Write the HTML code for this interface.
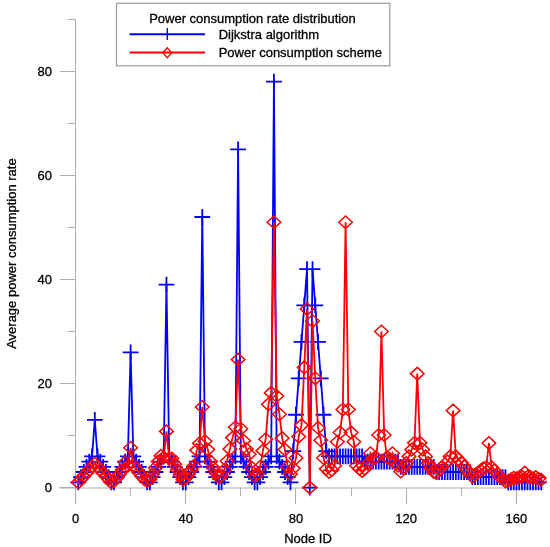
<!DOCTYPE html>
<html><head><meta charset="utf-8"><style>html,body{margin:0;padding:0;background:#fff;}svg{display:block;}</style></head>
<body><svg width="550" height="547" viewBox="0 0 550 547">
<rect width="550" height="547" fill="#fff"/>
<g stroke="#b0b0b0" stroke-width="1.1" fill="none"><line x1="75.5" y1="19.24" x2="75.5" y2="504" /><line x1="59.5" y1="487.50" x2="75.5" y2="487.50" /><line x1="67.5" y1="435.50" x2="75.5" y2="435.50" /><line x1="59.5" y1="383.50" x2="75.5" y2="383.50" /><line x1="67.5" y1="331.50" x2="75.5" y2="331.50" /><line x1="59.5" y1="279.50" x2="75.5" y2="279.50" /><line x1="67.5" y1="227.50" x2="75.5" y2="227.50" /><line x1="59.5" y1="175.50" x2="75.5" y2="175.50" /><line x1="67.5" y1="123.50" x2="75.5" y2="123.50" /><line x1="59.5" y1="71.50" x2="75.5" y2="71.50" /><line x1="67.5" y1="19.50" x2="75.5" y2="19.50" /><line x1="59.5" y1="488" x2="544.02" y2="488" /><line x1="75.50" y1="488" x2="75.50" y2="504" /><line x1="130.50" y1="488" x2="130.50" y2="496" /><line x1="185.50" y1="488" x2="185.50" y2="504" /><line x1="240.50" y1="488" x2="240.50" y2="496" /><line x1="295.50" y1="488" x2="295.50" y2="504" /><line x1="351.50" y1="488" x2="351.50" y2="496" /><line x1="406.50" y1="488" x2="406.50" y2="504" /><line x1="461.50" y1="488" x2="461.50" y2="496" /><line x1="516.50" y1="488" x2="516.50" y2="504" /></g>
<g font-family="Liberation Sans, Arial, sans-serif" font-size="13" fill="#000" stroke="#000" stroke-width="0.3"><text x="52" y="492.20" text-anchor="end">0</text><text x="52" y="388.12" text-anchor="end">20</text><text x="52" y="284.04" text-anchor="end">40</text><text x="52" y="179.96" text-anchor="end">60</text><text x="52" y="75.88" text-anchor="end">80</text><text x="75.50" y="523.3" text-anchor="middle">0</text><text x="185.74" y="523.3" text-anchor="middle">40</text><text x="295.98" y="523.3" text-anchor="middle">80</text><text x="406.22" y="523.3" text-anchor="middle">120</text><text x="516.46" y="523.3" text-anchor="middle">160</text>
<text x="308" y="543.2" text-anchor="middle">Node ID</text>
<text transform="translate(15.8 253.6) rotate(-90)" text-anchor="middle">Average power consumption rate</text>
</g>
<defs><clipPath id="cp"><rect x="0" y="0" width="546.6" height="547"/></clipPath></defs>
<g fill="none" stroke-linejoin="miter" clip-path="url(#cp)">
<polyline points="78.26,482.40 81.01,477.19 83.77,471.99 86.52,466.78 89.28,461.58 92.04,456.38 94.79,419.95 97.55,456.38 100.30,461.58 103.06,466.78 105.82,471.99 108.57,477.19 111.33,482.40 114.08,482.40 116.84,477.19 119.60,471.99 122.35,466.78 125.11,461.58 127.86,456.38 130.62,352.30 133.38,456.38 136.13,461.58 138.89,466.78 141.64,471.99 144.40,477.19 147.16,482.40 149.91,482.40 152.67,477.19 155.42,471.99 158.18,466.78 160.94,461.58 163.69,456.38 166.45,284.64 169.20,456.38 171.96,461.58 174.72,466.78 177.47,471.99 180.23,477.19 182.98,482.40 185.74,482.40 188.50,477.19 191.25,471.99 194.01,466.78 196.76,461.58 199.52,456.38 202.28,216.99 205.03,456.38 207.79,461.58 210.54,466.78 213.30,471.99 216.06,477.19 218.81,482.40 221.57,482.40 224.32,477.19 227.08,471.99 229.84,466.78 232.59,461.58 235.35,456.38 238.10,149.34 240.86,456.38 243.62,461.58 246.37,466.78 249.13,471.99 251.88,477.19 254.64,482.40 257.40,482.40 260.15,477.19 262.91,471.99 265.66,466.78 268.42,461.58 271.18,456.38 273.93,81.69 276.69,456.38 279.44,461.58 282.20,466.78 284.96,471.99 287.71,477.19 290.47,482.40 293.22,451.17 295.98,414.74 298.74,378.32 301.49,341.89 304.25,305.46 307.00,269.03 309.76,487.60 312.52,269.03 315.27,305.46 318.03,341.89 320.78,378.32 323.54,414.74 326.30,451.17 329.05,456.38 331.81,456.38 334.56,456.38 337.32,456.38 340.08,456.38 342.83,456.38 345.59,456.38 348.34,456.38 351.10,456.38 353.86,456.38 356.61,456.38 359.37,456.38 362.12,456.38 364.88,461.58 367.64,461.58 370.39,461.58 373.15,461.58 375.90,461.58 378.66,461.58 381.42,461.58 384.17,461.58 386.93,461.58 389.68,461.58 392.44,461.58 395.20,461.58 397.95,461.58 400.71,466.78 403.46,466.78 406.22,466.78 408.98,466.78 411.73,466.78 414.49,466.78 417.24,466.78 420.00,466.78 422.76,466.78 425.51,466.78 428.27,466.78 431.02,466.78 433.78,466.78 436.54,471.99 439.29,471.99 442.05,471.99 444.80,471.99 447.56,471.99 450.32,471.99 453.07,471.99 455.83,471.99 458.58,471.99 461.34,471.99 464.10,471.99 466.85,471.99 469.61,471.99 472.36,477.19 475.12,477.19 477.88,477.19 480.63,477.19 483.39,477.19 486.14,477.19 488.90,477.19 491.66,477.19 494.41,477.19 497.17,477.19 499.92,477.19 502.68,477.19 505.44,477.19 508.19,482.40 510.95,482.40 513.70,482.40 516.46,482.40 519.22,482.40 521.97,482.40 524.73,482.40 527.48,482.40 530.24,482.40 533.00,482.40 535.75,482.40 538.51,482.40 541.26,482.40" stroke="#0000ff" stroke-width="1.8"/>
<path d="M70.36 482.40H86.16M78.26 474.50V490.30M73.11 477.19H88.91M81.01 469.29V485.09M75.87 471.99H91.67M83.77 464.09V479.89M78.62 466.78H94.42M86.52 458.88V474.68M81.38 461.58H97.18M89.28 453.68V469.48M84.14 456.38H99.94M92.04 448.48V464.28M86.89 419.95H102.69M94.79 412.05V427.85M89.65 456.38H105.45M97.55 448.48V464.28M92.40 461.58H108.20M100.30 453.68V469.48M95.16 466.78H110.96M103.06 458.88V474.68M97.92 471.99H113.72M105.82 464.09V479.89M100.67 477.19H116.47M108.57 469.29V485.09M103.43 482.40H119.23M111.33 474.50V490.30M106.18 482.40H121.98M114.08 474.50V490.30M108.94 477.19H124.74M116.84 469.29V485.09M111.70 471.99H127.50M119.60 464.09V479.89M114.45 466.78H130.25M122.35 458.88V474.68M117.21 461.58H133.01M125.11 453.68V469.48M119.96 456.38H135.76M127.86 448.48V464.28M122.72 352.30H138.52M130.62 344.40V360.20M125.48 456.38H141.28M133.38 448.48V464.28M128.23 461.58H144.03M136.13 453.68V469.48M130.99 466.78H146.79M138.89 458.88V474.68M133.74 471.99H149.54M141.64 464.09V479.89M136.50 477.19H152.30M144.40 469.29V485.09M139.26 482.40H155.06M147.16 474.50V490.30M142.01 482.40H157.81M149.91 474.50V490.30M144.77 477.19H160.57M152.67 469.29V485.09M147.52 471.99H163.32M155.42 464.09V479.89M150.28 466.78H166.08M158.18 458.88V474.68M153.04 461.58H168.84M160.94 453.68V469.48M155.79 456.38H171.59M163.69 448.48V464.28M158.55 284.64H174.35M166.45 276.74V292.54M161.30 456.38H177.10M169.20 448.48V464.28M164.06 461.58H179.86M171.96 453.68V469.48M166.82 466.78H182.62M174.72 458.88V474.68M169.57 471.99H185.37M177.47 464.09V479.89M172.33 477.19H188.13M180.23 469.29V485.09M175.08 482.40H190.88M182.98 474.50V490.30M177.84 482.40H193.64M185.74 474.50V490.30M180.60 477.19H196.40M188.50 469.29V485.09M183.35 471.99H199.15M191.25 464.09V479.89M186.11 466.78H201.91M194.01 458.88V474.68M188.86 461.58H204.66M196.76 453.68V469.48M191.62 456.38H207.42M199.52 448.48V464.28M194.38 216.99H210.18M202.28 209.09V224.89M197.13 456.38H212.93M205.03 448.48V464.28M199.89 461.58H215.69M207.79 453.68V469.48M202.64 466.78H218.44M210.54 458.88V474.68M205.40 471.99H221.20M213.30 464.09V479.89M208.16 477.19H223.96M216.06 469.29V485.09M210.91 482.40H226.71M218.81 474.50V490.30M213.67 482.40H229.47M221.57 474.50V490.30M216.42 477.19H232.22M224.32 469.29V485.09M219.18 471.99H234.98M227.08 464.09V479.89M221.94 466.78H237.74M229.84 458.88V474.68M224.69 461.58H240.49M232.59 453.68V469.48M227.45 456.38H243.25M235.35 448.48V464.28M230.20 149.34H246.00M238.10 141.44V157.24M232.96 456.38H248.76M240.86 448.48V464.28M235.72 461.58H251.52M243.62 453.68V469.48M238.47 466.78H254.27M246.37 458.88V474.68M241.23 471.99H257.03M249.13 464.09V479.89M243.98 477.19H259.78M251.88 469.29V485.09M246.74 482.40H262.54M254.64 474.50V490.30M249.50 482.40H265.30M257.40 474.50V490.30M252.25 477.19H268.05M260.15 469.29V485.09M255.01 471.99H270.81M262.91 464.09V479.89M257.76 466.78H273.56M265.66 458.88V474.68M260.52 461.58H276.32M268.42 453.68V469.48M263.28 456.38H279.08M271.18 448.48V464.28M266.03 81.69H281.83M273.93 73.79V89.59M268.79 456.38H284.59M276.69 448.48V464.28M271.54 461.58H287.34M279.44 453.68V469.48M274.30 466.78H290.10M282.20 458.88V474.68M277.06 471.99H292.86M284.96 464.09V479.89M279.81 477.19H295.61M287.71 469.29V485.09M282.57 482.40H298.37M290.47 474.50V490.30M285.32 451.17H301.12M293.22 443.27V459.07M288.08 414.74H303.88M295.98 406.84V422.64M290.84 378.32H306.64M298.74 370.42V386.22M293.59 341.89H309.39M301.49 333.99V349.79M296.35 305.46H312.15M304.25 297.56V313.36M299.10 269.03H314.90M307.00 261.13V276.93M301.86 487.60H317.66M309.76 479.70V495.50M304.62 269.03H320.42M312.52 261.13V276.93M307.37 305.46H323.17M315.27 297.56V313.36M310.13 341.89H325.93M318.03 333.99V349.79M312.88 378.32H328.68M320.78 370.42V386.22M315.64 414.74H331.44M323.54 406.84V422.64M318.40 451.17H334.20M326.30 443.27V459.07M321.15 456.38H336.95M329.05 448.48V464.28M323.91 456.38H339.71M331.81 448.48V464.28M326.66 456.38H342.46M334.56 448.48V464.28M329.42 456.38H345.22M337.32 448.48V464.28M332.18 456.38H347.98M340.08 448.48V464.28M334.93 456.38H350.73M342.83 448.48V464.28M337.69 456.38H353.49M345.59 448.48V464.28M340.44 456.38H356.24M348.34 448.48V464.28M343.20 456.38H359.00M351.10 448.48V464.28M345.96 456.38H361.76M353.86 448.48V464.28M348.71 456.38H364.51M356.61 448.48V464.28M351.47 456.38H367.27M359.37 448.48V464.28M354.22 456.38H370.02M362.12 448.48V464.28M356.98 461.58H372.78M364.88 453.68V469.48M359.74 461.58H375.54M367.64 453.68V469.48M362.49 461.58H378.29M370.39 453.68V469.48M365.25 461.58H381.05M373.15 453.68V469.48M368.00 461.58H383.80M375.90 453.68V469.48M370.76 461.58H386.56M378.66 453.68V469.48M373.52 461.58H389.32M381.42 453.68V469.48M376.27 461.58H392.07M384.17 453.68V469.48M379.03 461.58H394.83M386.93 453.68V469.48M381.78 461.58H397.58M389.68 453.68V469.48M384.54 461.58H400.34M392.44 453.68V469.48M387.30 461.58H403.10M395.20 453.68V469.48M390.05 461.58H405.85M397.95 453.68V469.48M392.81 466.78H408.61M400.71 458.88V474.68M395.56 466.78H411.36M403.46 458.88V474.68M398.32 466.78H414.12M406.22 458.88V474.68M401.08 466.78H416.88M408.98 458.88V474.68M403.83 466.78H419.63M411.73 458.88V474.68M406.59 466.78H422.39M414.49 458.88V474.68M409.34 466.78H425.14M417.24 458.88V474.68M412.10 466.78H427.90M420.00 458.88V474.68M414.86 466.78H430.66M422.76 458.88V474.68M417.61 466.78H433.41M425.51 458.88V474.68M420.37 466.78H436.17M428.27 458.88V474.68M423.12 466.78H438.92M431.02 458.88V474.68M425.88 466.78H441.68M433.78 458.88V474.68M428.64 471.99H444.44M436.54 464.09V479.89M431.39 471.99H447.19M439.29 464.09V479.89M434.15 471.99H449.95M442.05 464.09V479.89M436.90 471.99H452.70M444.80 464.09V479.89M439.66 471.99H455.46M447.56 464.09V479.89M442.42 471.99H458.22M450.32 464.09V479.89M445.17 471.99H460.97M453.07 464.09V479.89M447.93 471.99H463.73M455.83 464.09V479.89M450.68 471.99H466.48M458.58 464.09V479.89M453.44 471.99H469.24M461.34 464.09V479.89M456.20 471.99H472.00M464.10 464.09V479.89M458.95 471.99H474.75M466.85 464.09V479.89M461.71 471.99H477.51M469.61 464.09V479.89M464.46 477.19H480.26M472.36 469.29V485.09M467.22 477.19H483.02M475.12 469.29V485.09M469.98 477.19H485.78M477.88 469.29V485.09M472.73 477.19H488.53M480.63 469.29V485.09M475.49 477.19H491.29M483.39 469.29V485.09M478.24 477.19H494.04M486.14 469.29V485.09M481.00 477.19H496.80M488.90 469.29V485.09M483.76 477.19H499.56M491.66 469.29V485.09M486.51 477.19H502.31M494.41 469.29V485.09M489.27 477.19H505.07M497.17 469.29V485.09M492.02 477.19H507.82M499.92 469.29V485.09M494.78 477.19H510.58M502.68 469.29V485.09M497.54 477.19H513.34M505.44 469.29V485.09M500.29 482.40H516.09M508.19 474.50V490.30M503.05 482.40H518.85M510.95 474.50V490.30M505.80 482.40H521.60M513.70 474.50V490.30M508.56 482.40H524.36M516.46 474.50V490.30M511.32 482.40H527.12M519.22 474.50V490.30M514.07 482.40H529.87M521.97 474.50V490.30M516.83 482.40H532.63M524.73 474.50V490.30M519.58 482.40H535.38M527.48 474.50V490.30M522.34 482.40H538.14M530.24 474.50V490.30M525.10 482.40H540.90M533.00 474.50V490.30M527.85 482.40H543.65M535.75 474.50V490.30M530.61 482.40H546.41M538.51 474.50V490.30M533.36 482.40H549.16M541.26 474.50V490.30" stroke="#0000ff" stroke-width="1.8"/>
<polyline points="78.26,482.40 81.01,479.27 83.77,476.15 86.52,473.03 89.28,469.91 92.04,466.78 94.79,463.66 97.55,466.78 100.30,469.91 103.06,473.03 105.82,476.15 108.57,479.27 111.33,482.40 114.08,480.83 116.84,477.71 119.60,474.07 122.35,469.91 125.11,462.36 127.86,465.74 130.62,447.79 133.38,465.22 136.13,468.87 138.89,472.51 141.64,476.15 144.40,479.27 147.16,480.83 149.91,479.27 152.67,474.07 155.42,467.82 158.18,461.58 160.94,455.86 163.69,457.42 166.45,431.40 169.20,458.46 171.96,458.46 174.72,464.18 177.47,469.91 180.23,475.11 182.98,479.79 185.74,477.71 188.50,474.07 191.25,469.91 194.01,465.74 196.76,450.13 199.52,443.37 202.28,406.94 205.03,441.28 207.79,449.61 210.54,461.58 213.30,467.82 216.06,473.03 218.81,477.19 221.57,475.63 224.32,469.91 227.08,461.06 229.84,449.09 232.59,437.64 235.35,427.23 238.10,359.58 240.86,428.79 243.62,440.76 246.37,449.09 249.13,454.29 251.88,467.82 254.64,476.15 257.40,474.07 260.15,466.78 262.91,450.65 265.66,439.20 268.42,404.34 271.18,392.89 273.93,222.20 276.69,396.01 279.44,414.22 282.20,438.16 284.96,449.61 287.71,466.78 290.47,474.07 293.22,468.35 295.98,457.94 298.74,436.60 301.49,425.15 304.25,367.39 307.00,309.10 309.76,487.60 312.52,321.07 315.27,378.32 318.03,427.75 320.78,440.24 323.54,457.94 326.30,468.87 329.05,471.99 331.81,469.91 334.56,465.74 337.32,441.80 340.08,432.44 342.83,409.54 345.59,222.20 348.34,409.54 351.10,432.44 353.86,441.80 356.61,465.74 359.37,468.87 362.12,470.95 364.88,468.87 367.64,463.66 370.39,453.25 373.15,458.98 375.90,457.42 378.66,435.04 381.42,331.48 384.17,435.04 386.93,457.42 389.68,458.98 392.44,453.25 395.20,462.62 397.95,465.74 400.71,471.47 403.46,467.82 406.22,463.14 408.98,456.38 411.73,449.61 414.49,442.85 417.24,373.63 420.00,442.85 422.76,449.61 425.51,456.38 428.27,463.14 431.02,467.82 433.78,471.99 436.54,473.03 439.29,469.91 442.05,466.78 444.80,464.18 447.56,461.58 450.32,456.38 453.07,410.58 455.83,456.38 458.58,459.50 461.34,462.62 464.10,466.26 466.85,469.91 469.61,474.07 472.36,476.67 475.12,474.59 477.88,472.51 480.63,470.43 483.39,468.35 486.14,467.30 488.90,443.11 491.66,467.30 494.41,470.43 497.17,473.55 499.92,476.67 502.68,479.27 505.44,481.36 508.19,480.83 510.95,479.27 513.70,477.71 516.46,478.23 519.22,477.19 521.97,476.67 524.73,472.51 527.48,476.67 530.24,477.19 533.00,478.23 535.75,477.19 538.51,478.75 541.26,479.79" stroke="#ff0000" stroke-width="1.8"/>
<path d="M71.46 482.40L78.26 476.10L85.06 482.40L78.26 488.70ZM74.21 479.27L81.01 472.97L87.81 479.27L81.01 485.57ZM76.97 476.15L83.77 469.85L90.57 476.15L83.77 482.45ZM79.72 473.03L86.52 466.73L93.32 473.03L86.52 479.33ZM82.48 469.91L89.28 463.61L96.08 469.91L89.28 476.21ZM85.24 466.78L92.04 460.48L98.84 466.78L92.04 473.08ZM87.99 463.66L94.79 457.36L101.59 463.66L94.79 469.96ZM90.75 466.78L97.55 460.48L104.35 466.78L97.55 473.08ZM93.50 469.91L100.30 463.61L107.10 469.91L100.30 476.21ZM96.26 473.03L103.06 466.73L109.86 473.03L103.06 479.33ZM99.02 476.15L105.82 469.85L112.62 476.15L105.82 482.45ZM101.77 479.27L108.57 472.97L115.37 479.27L108.57 485.57ZM104.53 482.40L111.33 476.10L118.13 482.40L111.33 488.70ZM107.28 480.83L114.08 474.53L120.88 480.83L114.08 487.13ZM110.04 477.71L116.84 471.41L123.64 477.71L116.84 484.01ZM112.80 474.07L119.60 467.77L126.40 474.07L119.60 480.37ZM115.55 469.91L122.35 463.61L129.15 469.91L122.35 476.21ZM118.31 462.36L125.11 456.06L131.91 462.36L125.11 468.66ZM121.06 465.74L127.86 459.44L134.66 465.74L127.86 472.04ZM123.82 447.79L130.62 441.49L137.42 447.79L130.62 454.09ZM126.58 465.22L133.38 458.92L140.18 465.22L133.38 471.52ZM129.33 468.87L136.13 462.57L142.93 468.87L136.13 475.17ZM132.09 472.51L138.89 466.21L145.69 472.51L138.89 478.81ZM134.84 476.15L141.64 469.85L148.44 476.15L141.64 482.45ZM137.60 479.27L144.40 472.97L151.20 479.27L144.40 485.57ZM140.36 480.83L147.16 474.53L153.96 480.83L147.16 487.13ZM143.11 479.27L149.91 472.97L156.71 479.27L149.91 485.57ZM145.87 474.07L152.67 467.77L159.47 474.07L152.67 480.37ZM148.62 467.82L155.42 461.52L162.22 467.82L155.42 474.12ZM151.38 461.58L158.18 455.28L164.98 461.58L158.18 467.88ZM154.14 455.86L160.94 449.56L167.74 455.86L160.94 462.16ZM156.89 457.42L163.69 451.12L170.49 457.42L163.69 463.72ZM159.65 431.40L166.45 425.10L173.25 431.40L166.45 437.70ZM162.40 458.46L169.20 452.16L176.00 458.46L169.20 464.76ZM165.16 458.46L171.96 452.16L178.76 458.46L171.96 464.76ZM167.92 464.18L174.72 457.88L181.52 464.18L174.72 470.48ZM170.67 469.91L177.47 463.61L184.27 469.91L177.47 476.21ZM173.43 475.11L180.23 468.81L187.03 475.11L180.23 481.41ZM176.18 479.79L182.98 473.49L189.78 479.79L182.98 486.09ZM178.94 477.71L185.74 471.41L192.54 477.71L185.74 484.01ZM181.70 474.07L188.50 467.77L195.30 474.07L188.50 480.37ZM184.45 469.91L191.25 463.61L198.05 469.91L191.25 476.21ZM187.21 465.74L194.01 459.44L200.81 465.74L194.01 472.04ZM189.96 450.13L196.76 443.83L203.56 450.13L196.76 456.43ZM192.72 443.37L199.52 437.07L206.32 443.37L199.52 449.67ZM195.48 406.94L202.28 400.64L209.08 406.94L202.28 413.24ZM198.23 441.28L205.03 434.98L211.83 441.28L205.03 447.58ZM200.99 449.61L207.79 443.31L214.59 449.61L207.79 455.91ZM203.74 461.58L210.54 455.28L217.34 461.58L210.54 467.88ZM206.50 467.82L213.30 461.52L220.10 467.82L213.30 474.12ZM209.26 473.03L216.06 466.73L222.86 473.03L216.06 479.33ZM212.01 477.19L218.81 470.89L225.61 477.19L218.81 483.49ZM214.77 475.63L221.57 469.33L228.37 475.63L221.57 481.93ZM217.52 469.91L224.32 463.61L231.12 469.91L224.32 476.21ZM220.28 461.06L227.08 454.76L233.88 461.06L227.08 467.36ZM223.04 449.09L229.84 442.79L236.64 449.09L229.84 455.39ZM225.79 437.64L232.59 431.34L239.39 437.64L232.59 443.94ZM228.55 427.23L235.35 420.93L242.15 427.23L235.35 433.53ZM231.30 359.58L238.10 353.28L244.90 359.58L238.10 365.88ZM234.06 428.79L240.86 422.49L247.66 428.79L240.86 435.09ZM236.82 440.76L243.62 434.46L250.42 440.76L243.62 447.06ZM239.57 449.09L246.37 442.79L253.17 449.09L246.37 455.39ZM242.33 454.29L249.13 447.99L255.93 454.29L249.13 460.59ZM245.08 467.82L251.88 461.52L258.68 467.82L251.88 474.12ZM247.84 476.15L254.64 469.85L261.44 476.15L254.64 482.45ZM250.60 474.07L257.40 467.77L264.20 474.07L257.40 480.37ZM253.35 466.78L260.15 460.48L266.95 466.78L260.15 473.08ZM256.11 450.65L262.91 444.35L269.71 450.65L262.91 456.95ZM258.86 439.20L265.66 432.90L272.46 439.20L265.66 445.50ZM261.62 404.34L268.42 398.04L275.22 404.34L268.42 410.64ZM264.38 392.89L271.18 386.59L277.98 392.89L271.18 399.19ZM267.13 222.20L273.93 215.90L280.73 222.20L273.93 228.50ZM269.89 396.01L276.69 389.71L283.49 396.01L276.69 402.31ZM272.64 414.22L279.44 407.92L286.24 414.22L279.44 420.52ZM275.40 438.16L282.20 431.86L289.00 438.16L282.20 444.46ZM278.16 449.61L284.96 443.31L291.76 449.61L284.96 455.91ZM280.91 466.78L287.71 460.48L294.51 466.78L287.71 473.08ZM283.67 474.07L290.47 467.77L297.27 474.07L290.47 480.37ZM286.42 468.35L293.22 462.05L300.02 468.35L293.22 474.65ZM289.18 457.94L295.98 451.64L302.78 457.94L295.98 464.24ZM291.94 436.60L298.74 430.30L305.54 436.60L298.74 442.90ZM294.69 425.15L301.49 418.85L308.29 425.15L301.49 431.45ZM297.45 367.39L304.25 361.09L311.05 367.39L304.25 373.69ZM300.20 309.10L307.00 302.80L313.80 309.10L307.00 315.40ZM302.96 487.60L309.76 481.30L316.56 487.60L309.76 493.90ZM305.72 321.07L312.52 314.77L319.32 321.07L312.52 327.37ZM308.47 378.32L315.27 372.02L322.07 378.32L315.27 384.62ZM311.23 427.75L318.03 421.45L324.83 427.75L318.03 434.05ZM313.98 440.24L320.78 433.94L327.58 440.24L320.78 446.54ZM316.74 457.94L323.54 451.64L330.34 457.94L323.54 464.24ZM319.50 468.87L326.30 462.57L333.10 468.87L326.30 475.17ZM322.25 471.99L329.05 465.69L335.85 471.99L329.05 478.29ZM325.01 469.91L331.81 463.61L338.61 469.91L331.81 476.21ZM327.76 465.74L334.56 459.44L341.36 465.74L334.56 472.04ZM330.52 441.80L337.32 435.50L344.12 441.80L337.32 448.10ZM333.28 432.44L340.08 426.14L346.88 432.44L340.08 438.74ZM336.03 409.54L342.83 403.24L349.63 409.54L342.83 415.84ZM338.79 222.20L345.59 215.90L352.39 222.20L345.59 228.50ZM341.54 409.54L348.34 403.24L355.14 409.54L348.34 415.84ZM344.30 432.44L351.10 426.14L357.90 432.44L351.10 438.74ZM347.06 441.80L353.86 435.50L360.66 441.80L353.86 448.10ZM349.81 465.74L356.61 459.44L363.41 465.74L356.61 472.04ZM352.57 468.87L359.37 462.57L366.17 468.87L359.37 475.17ZM355.32 470.95L362.12 464.65L368.92 470.95L362.12 477.25ZM358.08 468.87L364.88 462.57L371.68 468.87L364.88 475.17ZM360.84 463.66L367.64 457.36L374.44 463.66L367.64 469.96ZM363.59 453.25L370.39 446.95L377.19 453.25L370.39 459.55ZM366.35 458.98L373.15 452.68L379.95 458.98L373.15 465.28ZM369.10 457.42L375.90 451.12L382.70 457.42L375.90 463.72ZM371.86 435.04L378.66 428.74L385.46 435.04L378.66 441.34ZM374.62 331.48L381.42 325.18L388.22 331.48L381.42 337.78ZM377.37 435.04L384.17 428.74L390.97 435.04L384.17 441.34ZM380.13 457.42L386.93 451.12L393.73 457.42L386.93 463.72ZM382.88 458.98L389.68 452.68L396.48 458.98L389.68 465.28ZM385.64 453.25L392.44 446.95L399.24 453.25L392.44 459.55ZM388.40 462.62L395.20 456.32L402.00 462.62L395.20 468.92ZM391.15 465.74L397.95 459.44L404.75 465.74L397.95 472.04ZM393.91 471.47L400.71 465.17L407.51 471.47L400.71 477.77ZM396.66 467.82L403.46 461.52L410.26 467.82L403.46 474.12ZM399.42 463.14L406.22 456.84L413.02 463.14L406.22 469.44ZM402.18 456.38L408.98 450.08L415.78 456.38L408.98 462.68ZM404.93 449.61L411.73 443.31L418.53 449.61L411.73 455.91ZM407.69 442.85L414.49 436.55L421.29 442.85L414.49 449.15ZM410.44 373.63L417.24 367.33L424.04 373.63L417.24 379.93ZM413.20 442.85L420.00 436.55L426.80 442.85L420.00 449.15ZM415.96 449.61L422.76 443.31L429.56 449.61L422.76 455.91ZM418.71 456.38L425.51 450.08L432.31 456.38L425.51 462.68ZM421.47 463.14L428.27 456.84L435.07 463.14L428.27 469.44ZM424.22 467.82L431.02 461.52L437.82 467.82L431.02 474.12ZM426.98 471.99L433.78 465.69L440.58 471.99L433.78 478.29ZM429.74 473.03L436.54 466.73L443.34 473.03L436.54 479.33ZM432.49 469.91L439.29 463.61L446.09 469.91L439.29 476.21ZM435.25 466.78L442.05 460.48L448.85 466.78L442.05 473.08ZM438.00 464.18L444.80 457.88L451.60 464.18L444.80 470.48ZM440.76 461.58L447.56 455.28L454.36 461.58L447.56 467.88ZM443.52 456.38L450.32 450.08L457.12 456.38L450.32 462.68ZM446.27 410.58L453.07 404.28L459.87 410.58L453.07 416.88ZM449.03 456.38L455.83 450.08L462.63 456.38L455.83 462.68ZM451.78 459.50L458.58 453.20L465.38 459.50L458.58 465.80ZM454.54 462.62L461.34 456.32L468.14 462.62L461.34 468.92ZM457.30 466.26L464.10 459.96L470.90 466.26L464.10 472.56ZM460.05 469.91L466.85 463.61L473.65 469.91L466.85 476.21ZM462.81 474.07L469.61 467.77L476.41 474.07L469.61 480.37ZM465.56 476.67L472.36 470.37L479.16 476.67L472.36 482.97ZM468.32 474.59L475.12 468.29L481.92 474.59L475.12 480.89ZM471.08 472.51L477.88 466.21L484.68 472.51L477.88 478.81ZM473.83 470.43L480.63 464.13L487.43 470.43L480.63 476.73ZM476.59 468.35L483.39 462.05L490.19 468.35L483.39 474.65ZM479.34 467.30L486.14 461.00L492.94 467.30L486.14 473.60ZM482.10 443.11L488.90 436.81L495.70 443.11L488.90 449.41ZM484.86 467.30L491.66 461.00L498.46 467.30L491.66 473.60ZM487.61 470.43L494.41 464.13L501.21 470.43L494.41 476.73ZM490.37 473.55L497.17 467.25L503.97 473.55L497.17 479.85ZM493.12 476.67L499.92 470.37L506.72 476.67L499.92 482.97ZM495.88 479.27L502.68 472.97L509.48 479.27L502.68 485.57ZM498.64 481.36L505.44 475.06L512.24 481.36L505.44 487.66ZM501.39 480.83L508.19 474.53L514.99 480.83L508.19 487.13ZM504.15 479.27L510.95 472.97L517.75 479.27L510.95 485.57ZM506.90 477.71L513.70 471.41L520.50 477.71L513.70 484.01ZM509.66 478.23L516.46 471.93L523.26 478.23L516.46 484.53ZM512.42 477.19L519.22 470.89L526.02 477.19L519.22 483.49ZM515.17 476.67L521.97 470.37L528.77 476.67L521.97 482.97ZM517.93 472.51L524.73 466.21L531.53 472.51L524.73 478.81ZM520.68 476.67L527.48 470.37L534.28 476.67L527.48 482.97ZM523.44 477.19L530.24 470.89L537.04 477.19L530.24 483.49ZM526.20 478.23L533.00 471.93L539.80 478.23L533.00 484.53ZM528.95 477.19L535.75 470.89L542.55 477.19L535.75 483.49ZM531.71 478.75L538.51 472.45L545.31 478.75L538.51 485.05ZM534.46 479.79L541.26 473.49L548.06 479.79L541.26 486.09Z" stroke="#ff0000" stroke-width="1.5"/>
</g>
<rect x="116.5" y="3.3" width="273.3" height="62.5" fill="#fff" stroke="#999" stroke-width="1.2"/>
<g font-family="Liberation Sans, Arial, sans-serif" font-size="13" fill="#000" stroke="#000" stroke-width="0.3">
<text x="149.2" y="22.7" textLength="206.5" lengthAdjust="spacingAndGlyphs">Power consumption rate distribution</text>
<text x="218.7" y="38.6">Dijkstra algorithm</text>
<text x="218.7" y="56.9">Power consumption scheme</text>
</g>
<g fill="none">
<path d="M129.6 34.2H205" stroke="#0000ff" stroke-width="2"/>
<path d="M167.3 28.1V40" stroke="#0000ff" stroke-width="1.4"/>
<path d="M129.6 52.6H205" stroke="#ff0000" stroke-width="2"/>
<path d="M162.9 52.7L167.3 47.7L171.7 52.7L167.3 57.7Z" stroke="#ff0000" stroke-width="1.3" fill="none"/>
</g>
</svg></body></html>
